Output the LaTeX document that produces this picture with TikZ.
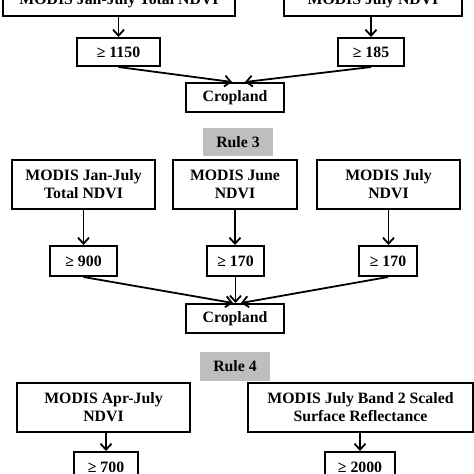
\documentclass[tikz,border=0pt]{standalone}
\usepackage{fontspec}
\setmainfont{Liberation Serif}
\usetikzlibrary{arrows.meta}
\definecolor{rulegray}{RGB}{190,190,190}
\tikzset{
  box/.style={draw=black, line width=2pt, fill=white, inner sep=0pt, align=center,
    font=\fontsize{15.8}{18}\selectfont\bfseries, text=black},
  rulebox/.style={fill=rulegray, inner sep=0pt, align=center,
    font=\fontsize{15.8}{18}\selectfont\bfseries, text=black},
  arr/.style={line width=1.8pt, -{Straight Barb[length=6pt,width=11pt,line width=1.8pt]}},
}
\begin{document}
\begin{tikzpicture}[x=1pt,y=-1pt]
\useasboundingbox (0,0) rectangle (474,474);
\clip (0,0) rectangle (474,474);
% Rule 2 (partial)
\node[box, minimum width=232pt, minimum height=30pt] (t1) at (119,0.5) {MODIS Jan-July Total NDVI};
\node[box, minimum width=178pt, minimum height=30pt] (t2) at (373,0.5) {MODIS July NDVI};
\node[box, minimum width=83pt, minimum height=28pt] (a1) at (118.5,52) {≥ 1150};
\node[box, minimum width=66pt, minimum height=28pt] (a2) at (371,52) {≥ 185};
\node[box, minimum width=98pt, minimum height=29pt] (c1) at (235,97.5) {Cropland};
\draw[arr] (t1.south -| a1.north) -- (a1.north);
\draw[arr] (t2.south -| a2.north) -- (a2.north);
\draw[arr] (a1.south) -- ([xshift=-3pt]c1.north);
\draw[arr] (a2.south) -- ([xshift=10pt]c1.north);
% Rule 3
\node[rulebox, minimum width=70pt, minimum height=28pt] (r3) at (238,142) {Rule 3};
\node[box, minimum width=143pt, minimum height=49pt] (b1) at (83.5,184.5) {MODIS Jan-July\\Total NDVI};
\node[box, minimum width=124pt, minimum height=49pt] (b2) at (235,184.5) {MODIS June\\NDVI};
\node[box, minimum width=143pt, minimum height=49pt] (b3) at (388.5,184.5) {MODIS July\\NDVI};
\node[box, minimum width=67pt, minimum height=30pt] (d1) at (83.5,261) {≥ 900};
\node[box, minimum width=57pt, minimum height=30pt] (d2) at (235.5,261) {≥ 170};
\node[box, minimum width=58pt, minimum height=30pt] (d3) at (388,261) {≥ 170};
\node[box, minimum width=98pt, minimum height=29pt] (c2) at (235,318.5) {Cropland};
\draw[arr] (b1.south) -- (b1.south |- d1.north);
\draw[arr] (b2.south) -- (b2.south |- d2.north);
\draw[arr] (b3.south) -- (b3.south |- d3.north);
\draw[arr] (d1.south) -- ([xshift=-2pt]c2.north);
\draw[arr] (d2.south) -- (d2.south |- c2.north);
\draw[arr] (d3.south) -- ([xshift=6pt]c2.north);
% Rule 4
\node[rulebox, minimum width=70pt, minimum height=29pt] (r4) at (235,366.5) {Rule 4};
\node[box, minimum width=173pt, minimum height=49pt] (e1) at (103.5,407.5) {MODIS Apr-July\\NDVI};
\node[box, minimum width=225pt, minimum height=49pt] (e2) at (360.5,407.5) {MODIS July Band 2 Scaled\\Surface Reflectance};
\node[box, minimum width=64pt, minimum height=30pt] (f1) at (106,467) {≥ 700};
\node[box, minimum width=70pt, minimum height=30pt] (f2) at (360,467) {≥ 2000};
\draw[arr] (e1.south -| f1.north) -- (f1.north);
\draw[arr] (e2.south -| f2.north) -- (f2.north);
\end{tikzpicture}
\end{document}
